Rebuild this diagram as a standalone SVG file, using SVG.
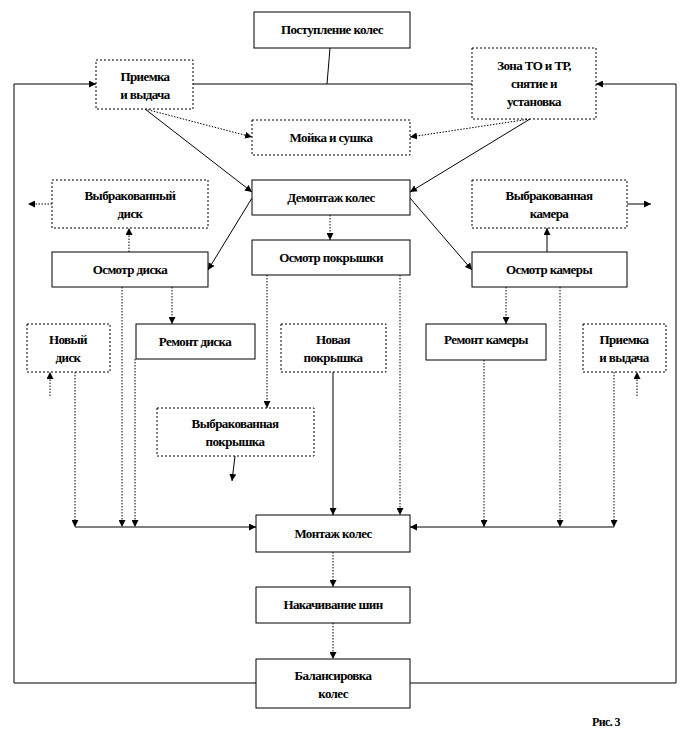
<svg xmlns="http://www.w3.org/2000/svg" width="690" height="756" viewBox="0 0 690 756">
<defs>
<marker id="a" viewBox="0 0 10 10" refX="10" refY="5" markerWidth="7" markerHeight="7" orient="auto-start-reverse" markerUnits="userSpaceOnUse"><path d="M0,0L10,5L0,10z" fill="#000"/></marker>
<style>
.s{fill:#fff;stroke:#000;stroke-width:1}
.d{fill:#fff;stroke:#000;stroke-width:1;stroke-dasharray:2,2}
text{font-family:"Liberation Serif",serif;font-weight:bold;font-size:13px;text-anchor:middle;letter-spacing:-0.6px}
.c line,.c polyline{stroke:#000;stroke-width:1;fill:none}
.c .o{stroke-dasharray:1.5,1.5}
</style>
</defs>
<rect width="690" height="756" fill="#fff"/>
<g class="c">
<polyline points="330,48 327,84"/>
<line x1="193" y1="84" x2="472" y2="84"/>
<polyline points="256,683 14,683 14,84 96,84" marker-end="url(#a)"/>
<polyline points="410,683 676,683 676,84 596,84" marker-end="url(#a)"/>
<line class="o" x1="145" y1="109" x2="252" y2="137" marker-end="url(#a)"/>
<line x1="145" y1="109" x2="252" y2="192" marker-end="url(#a)"/>
<line class="o" x1="530" y1="119" x2="410" y2="137" marker-end="url(#a)"/>
<line x1="530" y1="119" x2="410" y2="192" marker-end="url(#a)"/>
<line x1="252" y1="198" x2="208" y2="270" marker-end="url(#a)"/>
<line x1="410" y1="198" x2="472" y2="270" marker-end="url(#a)"/>
<line class="o" x1="330" y1="215" x2="330" y2="240" marker-end="url(#a)"/>
<line class="o" x1="129" y1="252" x2="129" y2="228" marker-end="url(#a)"/>
<line class="o" x1="52" y1="204" x2="28" y2="204" marker-end="url(#a)"/>
<line x1="547" y1="252" x2="547" y2="228" marker-end="url(#a)"/>
<line x1="627" y1="204" x2="651" y2="204" marker-end="url(#a)"/>
<line class="o" x1="172" y1="287" x2="172" y2="324" marker-end="url(#a)"/>
<line class="o" x1="122" y1="287" x2="122" y2="527" marker-end="url(#a)"/>
<line class="o" x1="135" y1="359" x2="135" y2="527" marker-end="url(#a)"/>
<line class="o" x1="75" y1="372" x2="75" y2="527" marker-end="url(#a)"/>
<line class="o" x1="50" y1="396" x2="50" y2="372" marker-end="url(#a)"/>
<line class="o" x1="267" y1="275" x2="267" y2="408" marker-end="url(#a)"/>
<line class="o" x1="400" y1="275" x2="400" y2="515" marker-end="url(#a)"/>
<line x1="333" y1="372" x2="333" y2="515" marker-end="url(#a)"/>
<line x1="235" y1="456" x2="232" y2="481" marker-end="url(#a)"/>
<line class="o" x1="506" y1="287" x2="506" y2="324" marker-end="url(#a)"/>
<line class="o" x1="560" y1="287" x2="560" y2="527" marker-end="url(#a)"/>
<line class="o" x1="484" y1="360" x2="484" y2="527" marker-end="url(#a)"/>
<line class="o" x1="614" y1="372" x2="614" y2="527" marker-end="url(#a)"/>
<line class="o" x1="637" y1="396" x2="637" y2="372" marker-end="url(#a)"/>
<line x1="75" y1="527" x2="256" y2="527" marker-end="url(#a)"/>
<line x1="614" y1="527" x2="410" y2="527" marker-end="url(#a)"/>
<line class="o" x1="333" y1="552" x2="333" y2="587" marker-end="url(#a)"/>
<line class="o" x1="333" y1="623" x2="333" y2="659" marker-end="url(#a)"/>
</g>
<g id="n1"><rect class="s" x="254" y="12" width="156" height="36"/><text x="332" y="34">Поступление колес</text></g>
<g id="n2"><rect class="d" x="96" y="60" width="97" height="49"/><text x="145" y="81">Приемка</text><text x="145" y="99">и выдача</text></g>
<g id="n3"><rect class="d" x="472" y="48" width="124" height="71"/><text x="534" y="70">Зона ТО и ТР,</text><text x="534" y="88">снятие и</text><text x="534" y="106">установка</text></g>
<g id="n4"><rect class="d" x="252" y="120" width="158" height="35"/><text x="331" y="142">Мойка и сушка</text></g>
<g id="n5"><rect class="s" x="252" y="180" width="158" height="35"/><text x="331" y="202">Демонтаж колес</text></g>
<g id="n6"><rect class="d" x="52" y="180" width="156" height="48"/><text x="130" y="200">Выбракованный</text><text x="130" y="218">диск</text></g>
<g id="n7"><rect class="d" x="472" y="180" width="155" height="48"/><text x="549" y="200">Выбракованная</text><text x="549" y="218">камера</text></g>
<g id="n8"><rect class="s" x="52" y="252" width="156" height="35"/><text x="130" y="274">Осмотр диска</text></g>
<g id="n9"><rect class="s" x="252" y="240" width="158" height="35"/><text x="331" y="262">Осмотр покрышки</text></g>
<g id="n10"><rect class="s" x="472" y="252" width="155" height="35"/><text x="549" y="274">Осмотр камеры</text></g>
<g id="n11"><rect class="d" x="27" y="324" width="83" height="48"/><text x="68" y="344">Новый</text><text x="68" y="362">диск</text></g>
<g id="n12"><rect class="s" x="136" y="324" width="119" height="35"/><text x="195" y="346">Ремонт диска</text></g>
<g id="n13"><rect class="d" x="281" y="324" width="105" height="48"/><text x="333" y="344">Новая</text><text x="333" y="362">покрышка</text></g>
<g id="n14"><rect class="s" x="426" y="324" width="120" height="36"/><text x="486" y="344">Ремонт камеры</text></g>
<g id="n15"><rect class="d" x="583" y="324" width="83" height="48"/><text x="624" y="344">Приемка</text><text x="624" y="362">и выдача</text></g>
<g id="n16"><rect class="d" x="157" y="408" width="157" height="48"/><text x="235" y="428">Выбракованная</text><text x="235" y="446">покрышка</text></g>
<g id="n17"><rect class="s" x="256" y="515" width="154" height="37"/><text x="333" y="538">Монтаж колес</text></g>
<g id="n18"><rect class="s" x="256" y="587" width="154" height="36"/><text x="333" y="609">Накачивание шин</text></g>
<g id="n19"><rect class="s" x="256" y="659" width="154" height="49"/><text x="333" y="680">Балансировка</text><text x="333" y="698">колес</text></g>
<text x="606" y="726" style="font-size:12px">Рис. 3</text>
</svg>
